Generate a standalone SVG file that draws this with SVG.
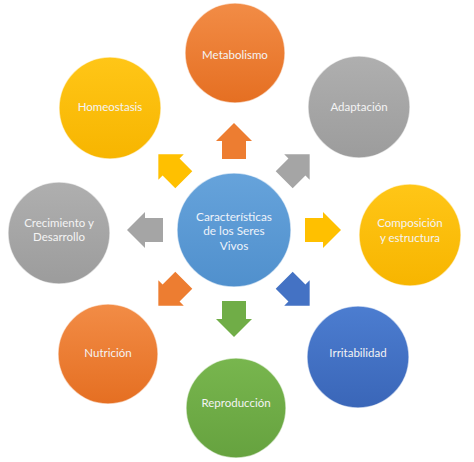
<svg xmlns="http://www.w3.org/2000/svg" xmlns:xlink="http://www.w3.org/1999/xlink" width="474" height="462" viewBox="0 0 474 462">
  <style>
    .lbl { font-family: Lato, "Liberation Sans", Arial, sans-serif; font-size: 11.5px; fill: #F4F4F4; text-anchor: middle; }
    .ctr { font-family: Lato, "Liberation Sans", Arial, sans-serif; font-size: 11.8px; fill: #EEF3FA; text-anchor: middle; }
    .disc { stroke: #FFFFFF; stroke-opacity: 0.6; stroke-width: 1.5; }
  </style>
  <defs>
    <linearGradient id="gOrange" x1="0" y1="0" x2="0" y2="1">
      <stop offset="0" stop-color="#F28C46"/>
      <stop offset="1" stop-color="#E56F22"/>
    </linearGradient>
    <linearGradient id="gGray" x1="0" y1="0" x2="0" y2="1">
      <stop offset="0" stop-color="#AFAFAF"/>
      <stop offset="1" stop-color="#9C9C9C"/>
    </linearGradient>
    <linearGradient id="gYellow" x1="0" y1="0" x2="0" y2="1">
      <stop offset="0" stop-color="#FFC617"/>
      <stop offset="1" stop-color="#F7B500"/>
    </linearGradient>
    <linearGradient id="gBlue" x1="0" y1="0" x2="0" y2="1">
      <stop offset="0" stop-color="#4C7DD0"/>
      <stop offset="1" stop-color="#3A66B8"/>
    </linearGradient>
    <linearGradient id="gGreen" x1="0" y1="0" x2="0" y2="1">
      <stop offset="0" stop-color="#78B64E"/>
      <stop offset="1" stop-color="#66A23F"/>
    </linearGradient>
    <linearGradient id="gCenter" x1="0" y1="0" x2="0" y2="1">
      <stop offset="0" stop-color="#66A3DB"/>
      <stop offset="1" stop-color="#5090CD"/>
    </linearGradient>
    <path id="arrow" d="M71,-12 L89,-12 L89,-18 L107,0 L89,18 L89,12 L71,12 Z"/>
  </defs>

  <g id="connectors">
    <use xlink:href="#arrow" href="#arrow" fill="#ED7D31" transform="translate(234,230) rotate(-90)"/>
    <use xlink:href="#arrow" href="#arrow" fill="#A5A5A5" transform="translate(234,230) rotate(-45)"/>
    <use xlink:href="#arrow" href="#arrow" fill="#FFC000" transform="translate(234,230) rotate(0)"/>
    <use xlink:href="#arrow" href="#arrow" fill="#4472C4" transform="translate(234,230) rotate(45)"/>
    <use xlink:href="#arrow" href="#arrow" fill="#70AD47" transform="translate(234,230) rotate(90)"/>
    <use xlink:href="#arrow" href="#arrow" fill="#ED7D31" transform="translate(234,230) rotate(135)"/>
    <use xlink:href="#arrow" href="#arrow" fill="#A5A5A5" transform="translate(234,230) rotate(180)"/>
    <use xlink:href="#arrow" href="#arrow" fill="#FFC000" transform="translate(234,230) rotate(-135)"/>
  </g>

  <g id="center">
    <circle class="disc" cx="234" cy="230" r="57" fill="url(#gCenter)"/>
    <text class="ctr" x="234" y="220.5">Características</text>
    <text class="ctr" x="234" y="235">de los Seres</text>
    <text class="ctr" x="234" y="249.5">Vivos</text>
  </g>

  <g id="metabolismo">
    <circle class="disc" cx="235" cy="53" r="50" fill="url(#gOrange)"/>
    <text class="lbl" x="235" y="59">Metabolismo</text>
  </g>

  <g id="adaptacion">
    <circle class="disc" cx="359" cy="107" r="51" fill="url(#gGray)"/>
    <text class="lbl" x="359" y="111">Adaptación</text>
  </g>

  <g id="composicion">
    <circle class="disc" cx="410" cy="235" r="51" fill="url(#gYellow)"/>
    <text class="lbl" x="410" y="227">Composición</text>
    <text class="lbl" x="410" y="242">y estructura</text>
  </g>

  <g id="irritabilidad">
    <circle class="disc" cx="358" cy="357" r="51" fill="url(#gBlue)"/>
    <text class="lbl" x="358" y="357">Irritabilidad</text>
  </g>

  <g id="reproduccion">
    <circle class="disc" cx="236" cy="408" r="50" fill="url(#gGreen)"/>
    <text class="lbl" x="236" y="407">Reproducción</text>
  </g>

  <g id="nutricion">
    <circle class="disc" cx="108" cy="354" r="50" fill="url(#gOrange)"/>
    <text class="lbl" x="108" y="357">Nutrición</text>
  </g>

  <g id="crecimiento">
    <circle class="disc" cx="59" cy="233" r="51" fill="url(#gGray)"/>
    <text class="lbl" x="59" y="227">Crecimiento y</text>
    <text class="lbl" x="59" y="241">Desarrollo</text>
  </g>

  <g id="homeostasis">
    <circle class="disc" cx="110" cy="108" r="51" fill="url(#gYellow)"/>
    <text class="lbl" x="110" y="111">Homeostasis</text>
  </g>
</svg>
